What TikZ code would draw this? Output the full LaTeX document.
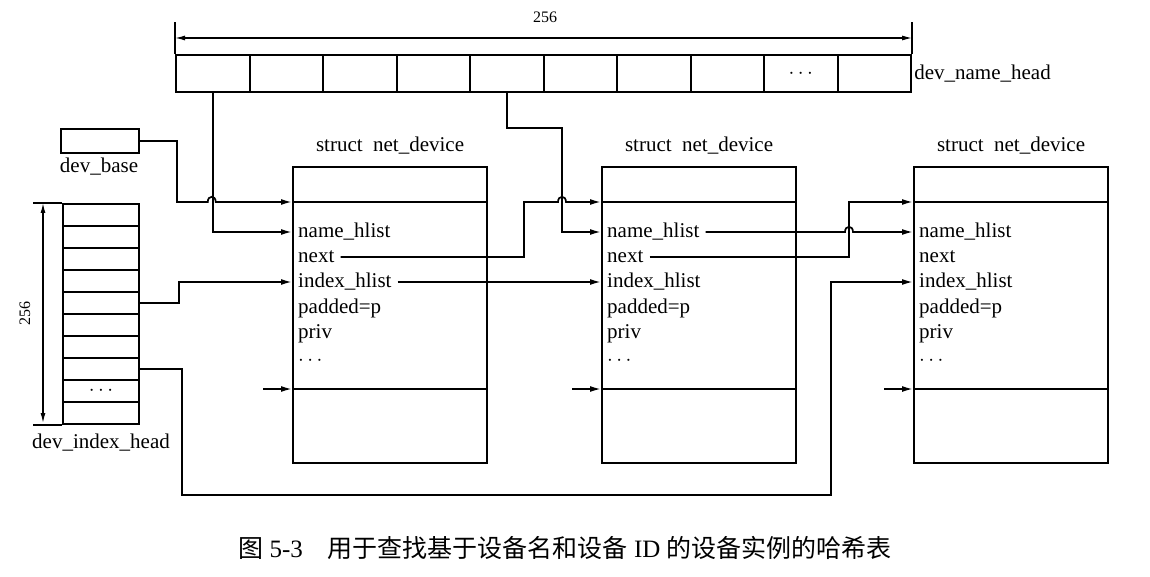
\documentclass[tikz,border=0pt]{standalone}
\usepackage{fontspec}
\setmainfont{Liberation Serif}
\newfontfamily\cjk{Noto Sans CJK SC}
\usetikzlibrary{arrows.meta}

\begin{document}
\begin{tikzpicture}[x=1pt,y=-1pt,
  box/.style={draw,line width=2.1pt,anchor=north west,inner sep=0pt},
  cell/.style={box,minimum width=73.5pt,minimum height=37pt},
  row/.style={box,minimum width=76pt,minimum height=22pt},
  devbox/.style={box,minimum width=194pt,minimum height=296pt},
  lbl/.style={font=\fontsize{21}{24}\selectfont,inner sep=0pt},
  small/.style={font=\fontsize{16}{19}\selectfont,inner sep=0pt},
  field/.style={lbl,anchor=west,inner xsep=6pt,text height=14pt,text depth=4pt},
  link/.style={line width=1.7pt,-{Latex[length=11pt,width=6pt]}},
  ext/.style={line width=1.3pt},
  dim/.style={ext,{Latex[length=10pt,width=5pt]}-{Latex[length=10pt,width=5pt]}}]
\useasboundingbox (0,0) rectangle (1150,577);

\foreach \c in {0,...,9} % dev_name_head cells
\node[cell] (c\c) at (175+73.5*\c,54) {};
\node[lbl] at (c8) {$\cdots$};
\node[lbl,anchor=west,inner xsep=2pt] (namehead) at (c9.east) {dev\_name\_head};
\draw[ext] (c0.north west) -- ++(0,-32);
\draw[ext] (c9.north east) -- ++(0,-32);
\draw[dim] ([yshift=16pt]c0.north west) -- ([yshift=16pt]c9.north east);
\node[small] (namelen) at (545,17) {256};

\node[box,minimum width=78pt,minimum height=24pt] (devbase) at (60,128) {};
\node[lbl] (baselbl) at (99,167) {dev\_base};

\foreach \r in {0,...,9} % dev_index_head rows
\node[row] (r\r) at (62,203+22*\r) {};
\node[lbl] at (r8) {$\cdots$};
\node[lbl] (indexlbl) at (101,443) {dev\_index\_head};
\draw[ext] (r0.north west) -- ++(-29,0);
\draw[ext] (r9.south west) -- ++(-29,0);
\draw[dim] (43,203) -- (43,423);
\node[small,rotate=90] (indexlen) at (25,313) {256};

\foreach \i/\x in {1/292,2/601,3/913} { % the three net_device boxes
\node[devbox] (nd\i) at (\x,166) {};
\node[lbl] (t\i) at ([yshift=20pt]nd\i.north) {struct\ \ net\_device};
\draw[line width=2.1pt] ([yshift=-36pt]nd\i.north west) coordinate (top\i) -- ([yshift=-36pt]nd\i.north east);
\draw[line width=2.1pt] ([yshift=-223pt]nd\i.north west) coordinate (low\i) -- ([yshift=-223pt]nd\i.north east);
\foreach \f/\t/\y in {name/name\_hlist/232,next/next/257,index/index\_hlist/282,pad/padded=p/308,priv/priv/333}
\node[field] (f\i\f) at (\x,\y) {\t};
\node[lbl,anchor=west,inner xsep=6pt] (f\i more) at (\x,361) {$\cdots$};
\draw[link] ([xshift=-29pt]low\i) -- (low\i);
}

\draw[link] (c0.south) |- (f1name.west);
\draw[link] (devbase.east) -| (177,202) -- (207.75,202) .. controls (207.75,195) and (215.75,195) .. (215.75,202) -- (top1);
\draw[link] (c4.south) |- (562,128) |- (f2name.west);
\draw[link] (f1next.east) -| (524,202) -- (558,202) .. controls (558,195) and (566,195) .. (566,202) -- (top2);
\draw[link] (f1index.east) -- (f2index.west);
\draw[link] (r4.east) -- ++(39,0) |- (f1index.west);
\draw[link] (r7.east) -- ++(42,0) |- (831,495) |- (f3index.west);
\draw[link] (f2name.east) -- (845,232) .. controls (845,225) and (853,225) .. (853,232) -- (f3name.west);
\draw[link] (f2next.east) -| (849,202) -- (top3);

\node[font=\fontsize{25}{29}\selectfont] (caption) at (565,548) {{\cjk 图}\ 5-3\quad{\cjk 用于查找基于设备名和设备}\ ID\ {\cjk 的设备实例的哈希表}};
\end{tikzpicture}
\end{document}
